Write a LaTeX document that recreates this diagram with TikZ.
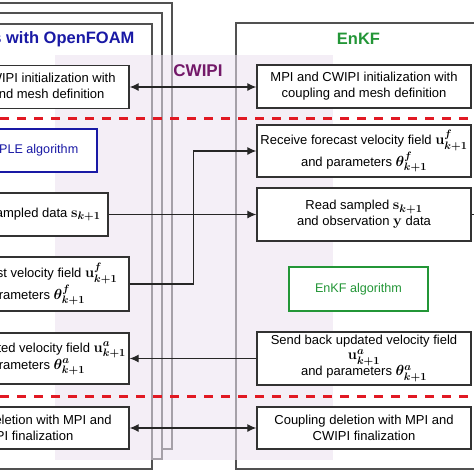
\documentclass[tikz,border=0pt]{standalone}
\usepackage{fix-cm}
\usepackage{amsmath,amsfonts,amssymb}
\usepackage[no-math]{fontspec}
\setmainfont{Liberation Sans}
\usepackage{tikz}
\usetikzlibrary{arrows.meta}
\usepackage{xcolor}
\DeclareMathSizes{13}{14.6}{10.8}{8.5}
\definecolor{ColA}{RGB}{25,25,165}
\definecolor{ColB}{RGB}{35,150,55}
\definecolor{ColC}{RGB}{115,25,105}
\definecolor{ColD}{RGB}{225,25,35}
\definecolor{ColE}{RGB}{235,225,240}
\definecolor{ColLine}{RGB}{50,50,50}
\newcommand{\BoxFont}{\fontsize{13}{16}\selectfont}
\newcommand{\TitleFont}{\fontsize{16.5}{20}\selectfont\bfseries}
\newcommand{\vel}[1]{\boldsymbol{\mathbf{u}^{#1}_{k+1}}}
\newcommand{\prm}[1]{\boldsymbol{\theta^{#1}_{k+1}}}
\tikzstyle{FrameBox}=[draw=ColLine!85,fill=white,line width=1.3pt]
\tikzstyle{StepBox}=[rectangle,draw=ColLine,fill=white,line width=1.3pt,align=center,
minimum width=214pt,inner sep=2pt,font=\BoxFont,text=black]
\tikzstyle{AlgoBox}=[rectangle,fill=white,line width=1.1pt,align=center,
minimum width=139pt,minimum height=43pt,inner sep=2pt,font=\fontsize{12.6}{15}\selectfont]
\tikzstyle{Sep}=[ColD,line width=3pt,dash pattern=on 9pt off 8pt]
\tikzstyle{Link}=[black!85,line width=1.2pt,-{Latex[length=9pt,width=8pt]}]
\tikzstyle{LinkB}=[black!85,line width=1.2pt,{Latex[length=9pt,width=8pt]}-{Latex[length=9pt,width=8pt]}]

\begin{document}
\begin{tikzpicture}[x=1pt,y=-1pt]
        \useasboundingbox (0,0) rectangle (474,474);
        \draw[FrameBox](-90,3)rectangle(172,449);
        \draw[FrameBox](-100,13)rectangle(162,459);
        \draw[FrameBox](-110,24)rectangle(152,469);
        \draw[FrameBox](236,23)rectangle(500,469);
        \fill[ColE,opacity=.55](55,55)rectangle(333,460);
        \node[anchor=east,text=ColA,font=\TitleFont](ltitle)at(138,39){Simulations with OpenFOAM};
        \node[text=ColB,font=\TitleFont](rtitle)at(358.5,39){EnKF};
        \node[text=ColC,font=\fontsize{17}{20}\selectfont\bfseries](cwipi)at(198,71){CWIPI};
        \draw[Sep](0,118)--(474,118);
        \draw[Sep](0,396)--(474,396);
        \node[StepBox,minimum height=43pt](linit)at(22,87){MPI and CWIPI initialization with\\coupling and mesh definition};
        \node[AlgoBox,draw=ColA,text=ColA](lalgo)at(27.5,150.5){PIMPLE algorithm};
        \node[StepBox,minimum width=160pt,minimum height=43pt](lsamp)at(28,214.5){Send sampled data $\boldsymbol{\mathbf{s}_{k+1}}$};
        \node[StepBox,minimum height=54pt](lfore)at(22,284){Send forecast velocity field $\vel{f}$\\and parameters $\prm{f}$};
        \node[StepBox,minimum height=51pt](lback)at(22,358.5){Receive updated velocity field $\vel{a}$\\and parameters $\prm{a}$};
        \node[StepBox,minimum height=42pt](lend)at(22,428){Coupling deletion with MPI and\\CWIPI finalization};
        \node[StepBox,minimum height=43pt](rinit)at(364,86.5){MPI and CWIPI initialization with\\coupling and mesh definition};
        \node[StepBox,minimum height=52pt](rfore)at(364,151){Receive forecast velocity field $\vel{f}$\\and parameters $\prm{f}$};
        \node[StepBox,minimum height=53pt](rsamp)at(364,214.5){Read sampled $\boldsymbol{\mathbf{s}_{k+1}}$\\and observation $\mathbf{y}$ data};
        \node[AlgoBox,draw=ColB,text=ColB,minimum height=44pt](ralgo)at(358.5,289){EnKF algorithm};
        \node[StepBox,minimum height=53pt](rback)at(364,358.5){Send back updated velocity field\\[-1pt]$\vel{a}$\\[-1pt]and parameters $\prm{a}$};
        \node[StepBox,minimum height=42pt](rend)at(364,428){Coupling deletion with MPI and\\CWIPI finalization};
        \coordinate(out)at(495,214.5);
        \draw[LinkB](linit.east)--(rinit.west|-linit.east);
        \draw[Link](lsamp.east)--(rsamp.west);
        \draw[Link](lfore.east)--++(64,0)|-(rfore.west);
        \draw[black!85,line width=1.2pt](rsamp.east)--(out);
        \draw[Link](rback.west)--(lback.east);
        \draw[LinkB](lend.east)--(rend.west);
    \end{tikzpicture}
\end{document}
